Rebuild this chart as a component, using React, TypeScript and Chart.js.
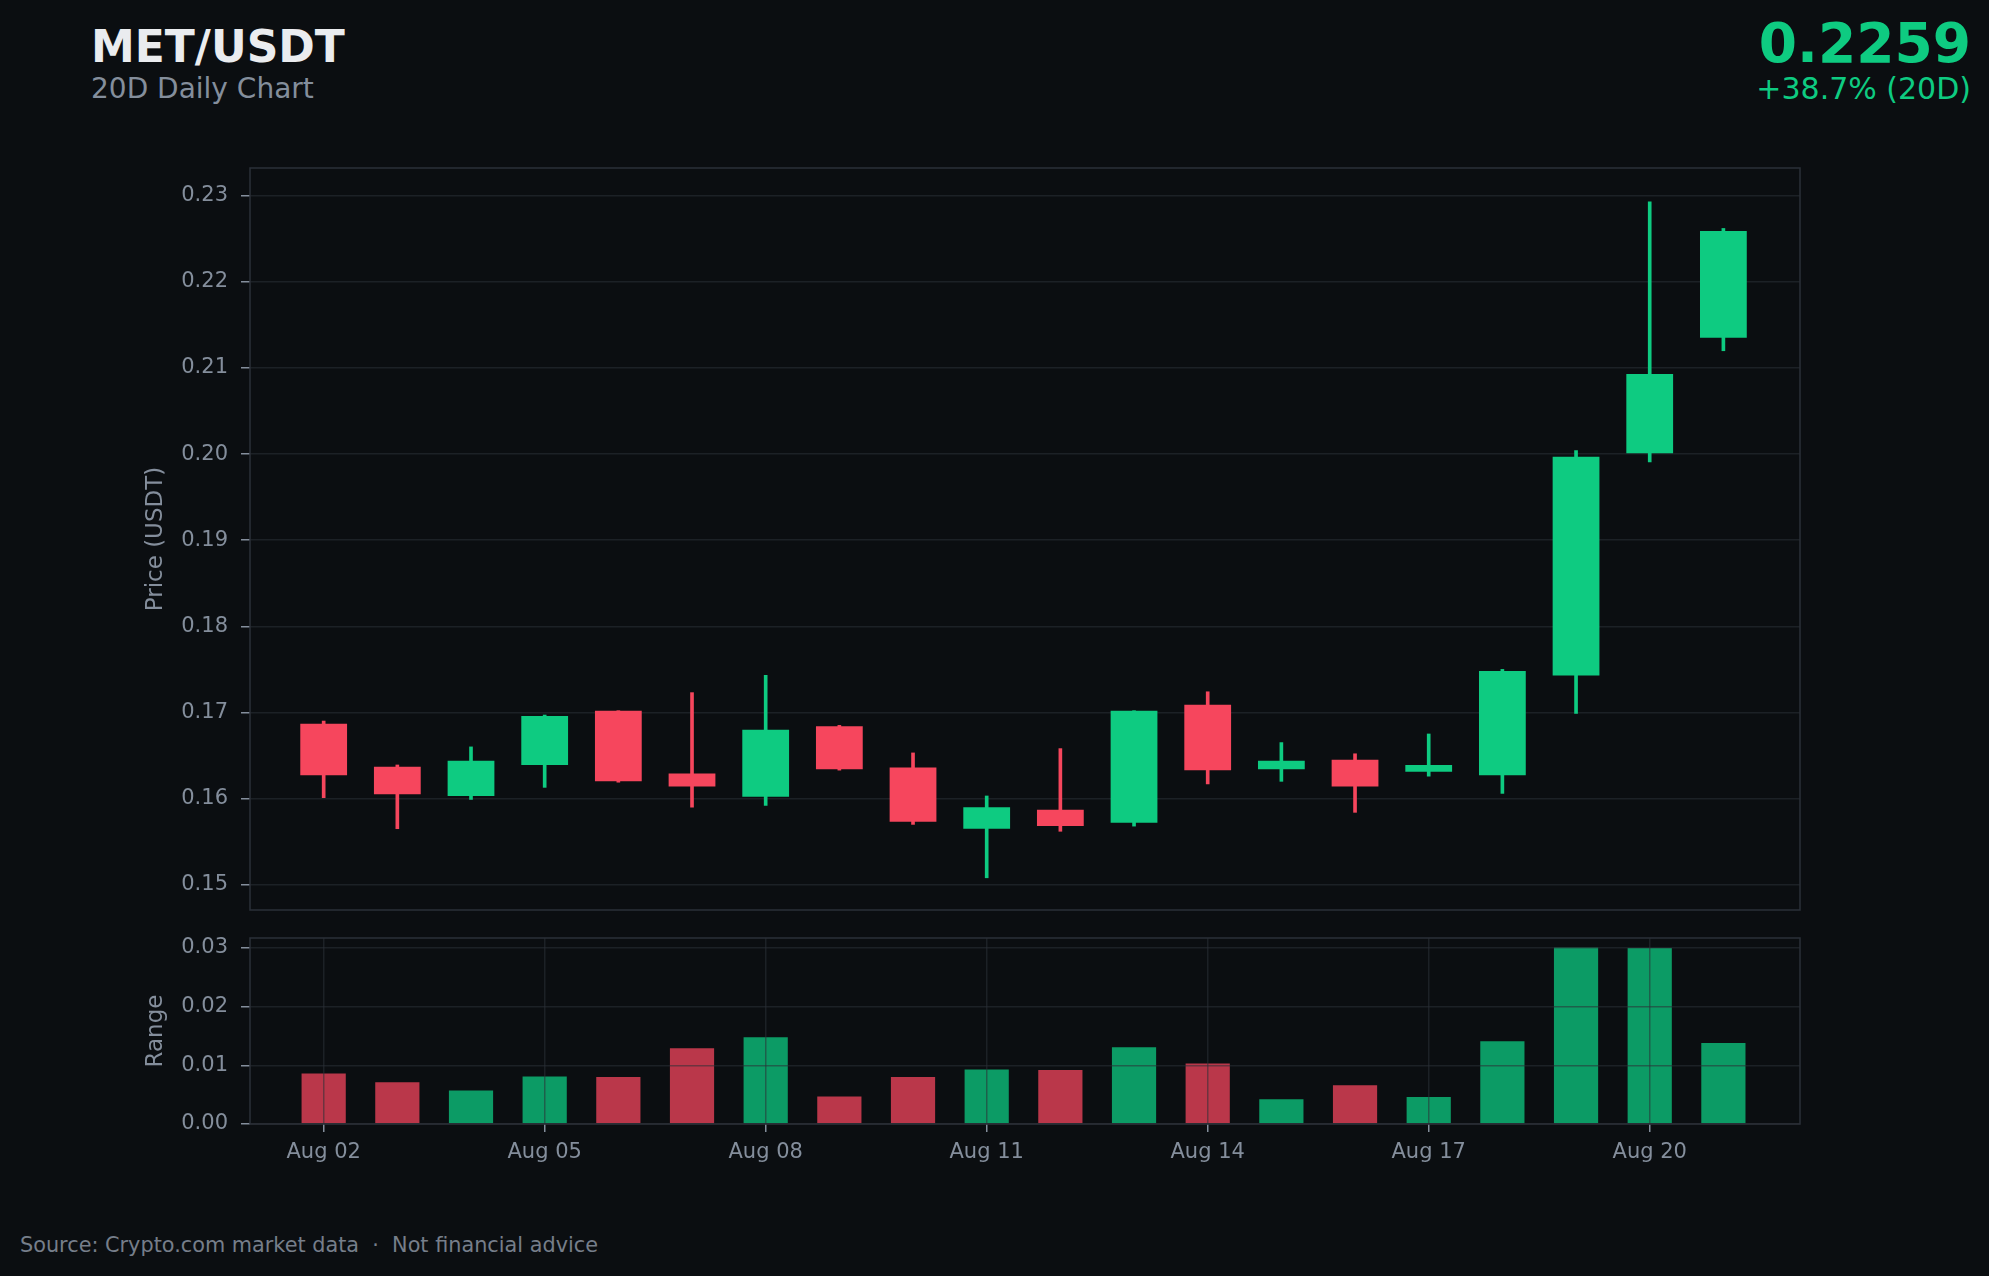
import { useEffect, useRef } from "react"
import { Chart, registerables } from "chart.js"

Chart.register(...registerables)

// daily candles, Aug 02 .. Aug 21
const dates = [
  "Aug 02", "Aug 03", "Aug 04", "Aug 05", "Aug 06", "Aug 07", "Aug 08", "Aug 09", "Aug 10", "Aug 11",
  "Aug 12", "Aug 13", "Aug 14", "Aug 15", "Aug 16", "Aug 17", "Aug 18", "Aug 19", "Aug 20", "Aug 21",
]
const opens = [
  0.1687, 0.1637, 0.1603, 0.1639, 0.1702, 0.1629, 0.1602, 0.1684, 0.1636, 0.1565,
  0.1587, 0.1572, 0.1709, 0.1634, 0.1645, 0.1631, 0.1627, 0.1743, 0.2001, 0.2135,
]
const closes = [
  0.1627, 0.1605, 0.1644, 0.1696, 0.162, 0.1614, 0.168, 0.1634, 0.1573, 0.159,
  0.1568, 0.1702, 0.1633, 0.1644, 0.1614, 0.1639, 0.1748, 0.1997, 0.2093, 0.2259,
]
const highs = [
  0.169, 0.1639, 0.166, 0.1697, 0.1702, 0.1723, 0.1743, 0.1685, 0.1653, 0.1603,
  0.1658, 0.1702, 0.1724, 0.1665, 0.1652, 0.1675, 0.175, 0.2004, 0.2293, 0.2262,
]
const lows = [
  0.1601, 0.1565, 0.1599, 0.1613, 0.1619, 0.159, 0.1592, 0.1633, 0.157, 0.1508,
  0.1562, 0.1568, 0.1617, 0.162, 0.1584, 0.1626, 0.1606, 0.1699, 0.1991, 0.212,
]
// daily range (high - low) as shown in the lower panel
const ranges = [
  0.0086, 0.0071, 0.0057, 0.0081, 0.008, 0.0129, 0.0148, 0.0047, 0.008, 0.0093,
  0.0092, 0.0131, 0.0103, 0.0042, 0.0066, 0.0046, 0.0141, 0.0301, 0.03, 0.0138,
]

const priceTicks = [0.15, 0.16, 0.17, 0.18, 0.19, 0.2, 0.21, 0.22, 0.23]
const rangeTicks = [0, 0.01, 0.02, 0.03]
const dateTickIndex = [0, 3, 6, 9, 12, 15, 18]

const BG = "#0b0e11"
const UP = "#0ecb81"
const DOWN = "#f6465d"
const UP_DIM = "rgba(14, 203, 129, 0.75)"
const DOWN_DIM = "rgba(246, 70, 93, 0.75)"
const GRID = "rgba(43, 49, 57, 0.55)"
const FRAME = "#2b3139"
const MUTED = "#848e9c"
const FONT = "'DejaVu Sans', sans-serif"

const isUp = opens.map((o, i) => closes[i] >= o)

const framePlugin = {
  id: "frame",
  afterDraw(chart: Chart) {
    const { ctx, chartArea } = chart
    ctx.save()
    ctx.strokeStyle = FRAME
    ctx.lineWidth = 1.5
    ctx.strokeRect(chartArea.left, chartArea.top, chartArea.right - chartArea.left, chartArea.bottom - chartArea.top)
    ctx.restore()
  },
}

function PriceChart() {
  const chartRef = useRef<HTMLCanvasElement>(null)

  useEffect(() => {
    if (!chartRef.current) return
    const colors = isUp.map((u) => (u ? UP : DOWN))

    const chart = new Chart(chartRef.current, {
      type: "bar",
      data: {
        datasets: [
          {
            label: "wick",
            data: dates.map((_, i) => ({ x: i, y: [lows[i], highs[i]] })) as any,
            backgroundColor: colors,
            barThickness: 3,
            grouped: false,
            order: 2,
          },
          {
            label: "body",
            data: dates.map((_, i) => ({ x: i, y: [opens[i], closes[i]] })) as any,
            backgroundColor: colors,
            borderWidth: 0,
            barPercentage: 0.635,
            categoryPercentage: 1,
            grouped: false,
            order: 1,
          },
        ],
      },
      options: {
        animation: false,
        responsive: false,
        layout: { padding: { top: 16, right: 20, bottom: 12, left: 0 } },
        plugins: { legend: { display: false }, tooltip: { enabled: false } },
        scales: {
          x: { type: "linear", min: -1, max: 20.04, offset: false, display: false },
          y: {
            min: 0.14706,
            max: 0.23322,
            afterBuildTicks: (s: any) => {
              s.ticks = priceTicks.map((v) => ({ value: v }))
            },
            afterFit: (s: any) => {
              s.width = 130
              s.paddingTop = 0
              s.paddingBottom = 0
            },
            grid: { color: GRID, lineWidth: 1.5, tickColor: MUTED, tickLength: 9, tickWidth: 1.5 },
            border: { display: false },
            ticks: {
              color: MUTED,
              padding: 13,
              font: { family: FONT, size: 21 },
              callback: (v: any) => Number(v).toFixed(2),
            },
            title: {
              display: true,
              text: "Price (USDT)",
              color: MUTED,
              font: { family: FONT, size: 23 },
              padding: { top: 22, bottom: 0 },
            },
          },
        },
      },
      plugins: [framePlugin],
    })

    return () => chart.destroy()
  }, [])

  return <canvas ref={chartRef} width={1700} height={770} style={{ position: "absolute", left: 120, top: 152 }} />
}

function RangeChart() {
  const chartRef = useRef<HTMLCanvasElement>(null)

  useEffect(() => {
    if (!chartRef.current) return
    const colors = isUp.map((u) => (u ? UP_DIM : DOWN_DIM))

    const chart = new Chart(chartRef.current, {
      type: "bar",
      data: {
        datasets: [
          {
            label: "Range",
            data: dates.map((_, i) => ({ x: i, y: ranges[i] })) as any,
            backgroundColor: colors,
            borderWidth: 0,
            barPercentage: 0.6,
            categoryPercentage: 1,
          },
        ],
      },
      options: {
        animation: false,
        responsive: false,
        layout: { padding: { top: 11, right: 20, bottom: 0, left: 0 } },
        plugins: { legend: { display: false }, tooltip: { enabled: false } },
        scales: {
          x: {
            type: "linear",
            min: -1,
            max: 20.04,
            offset: false,
            z: 1,
            afterBuildTicks: (s: any) => {
              s.ticks = dateTickIndex.map((v) => ({ value: v }))
            },
            afterFit: (s: any) => {
              s.height = 63
              s.paddingLeft = 0
              s.paddingRight = 0
            },
            grid: {
              z: 1,
              offset: false,
              color: GRID,
              lineWidth: 1.5,
              tickColor: MUTED,
              tickLength: 8,
              tickWidth: 1.5,
            },
            border: { display: false },
            ticks: {
              color: MUTED,
              padding: 8,
              maxRotation: 0,
              autoSkip: false,
              font: { family: FONT, size: 21 },
              callback: (v: any) => dates[Number(v)] ?? "",
            },
          },
          y: {
            min: 0,
            max: 0.0317,
            z: 1,
            afterBuildTicks: (s: any) => {
              s.ticks = rangeTicks.map((v) => ({ value: v }))
            },
            afterFit: (s: any) => {
              s.width = 130
              s.paddingTop = 0
              s.paddingBottom = 0
            },
            grid: { z: 1, color: GRID, lineWidth: 1.5, tickColor: MUTED, tickLength: 9, tickWidth: 1.5 },
            border: { display: false },
            ticks: {
              color: MUTED,
              padding: 13,
              font: { family: FONT, size: 21 },
              callback: (v: any) => Number(v).toFixed(2),
            },
            title: {
              display: true,
              text: "Range",
              color: MUTED,
              font: { family: FONT, size: 23 },
              padding: { top: 22, bottom: 0 },
            },
          },
        },
      },
      plugins: [framePlugin],
    })

    return () => chart.destroy()
  }, [])

  return <canvas ref={chartRef} width={1700} height={260} style={{ position: "absolute", left: 120, top: 927 }} />
}

export default function App() {
  const text = { position: "absolute" as const, fontFamily: FONT, lineHeight: 1, whiteSpace: "pre" as const }
  return (
    <div style={{ position: "absolute", left: 0, top: 0, width: 1989, height: 1276, background: BG, overflow: "hidden" }}>
      <div style={{ ...text, left: 91, top: 25, fontSize: 44, fontWeight: "bold", color: "#eaecef" }}>MET/USDT</div>
      <div style={{ ...text, left: 91, top: 75, fontSize: 28, color: MUTED }}>20D Daily Chart</div>
      <div style={{ ...text, right: 18, top: 16, fontSize: 55, fontWeight: "bold", color: UP }}>0.2259</div>
      <div style={{ ...text, right: 18, top: 74, fontSize: 30, color: UP }}>+38.7% (20D)</div>
      <PriceChart />
      <RangeChart />
      <div style={{ ...text, left: 20, top: 1235, fontSize: 20.8, color: "#767e8a" }}>
        {"Source: Crypto.com market data  ·  Not financial advice"}
      </div>
    </div>
  )
}
